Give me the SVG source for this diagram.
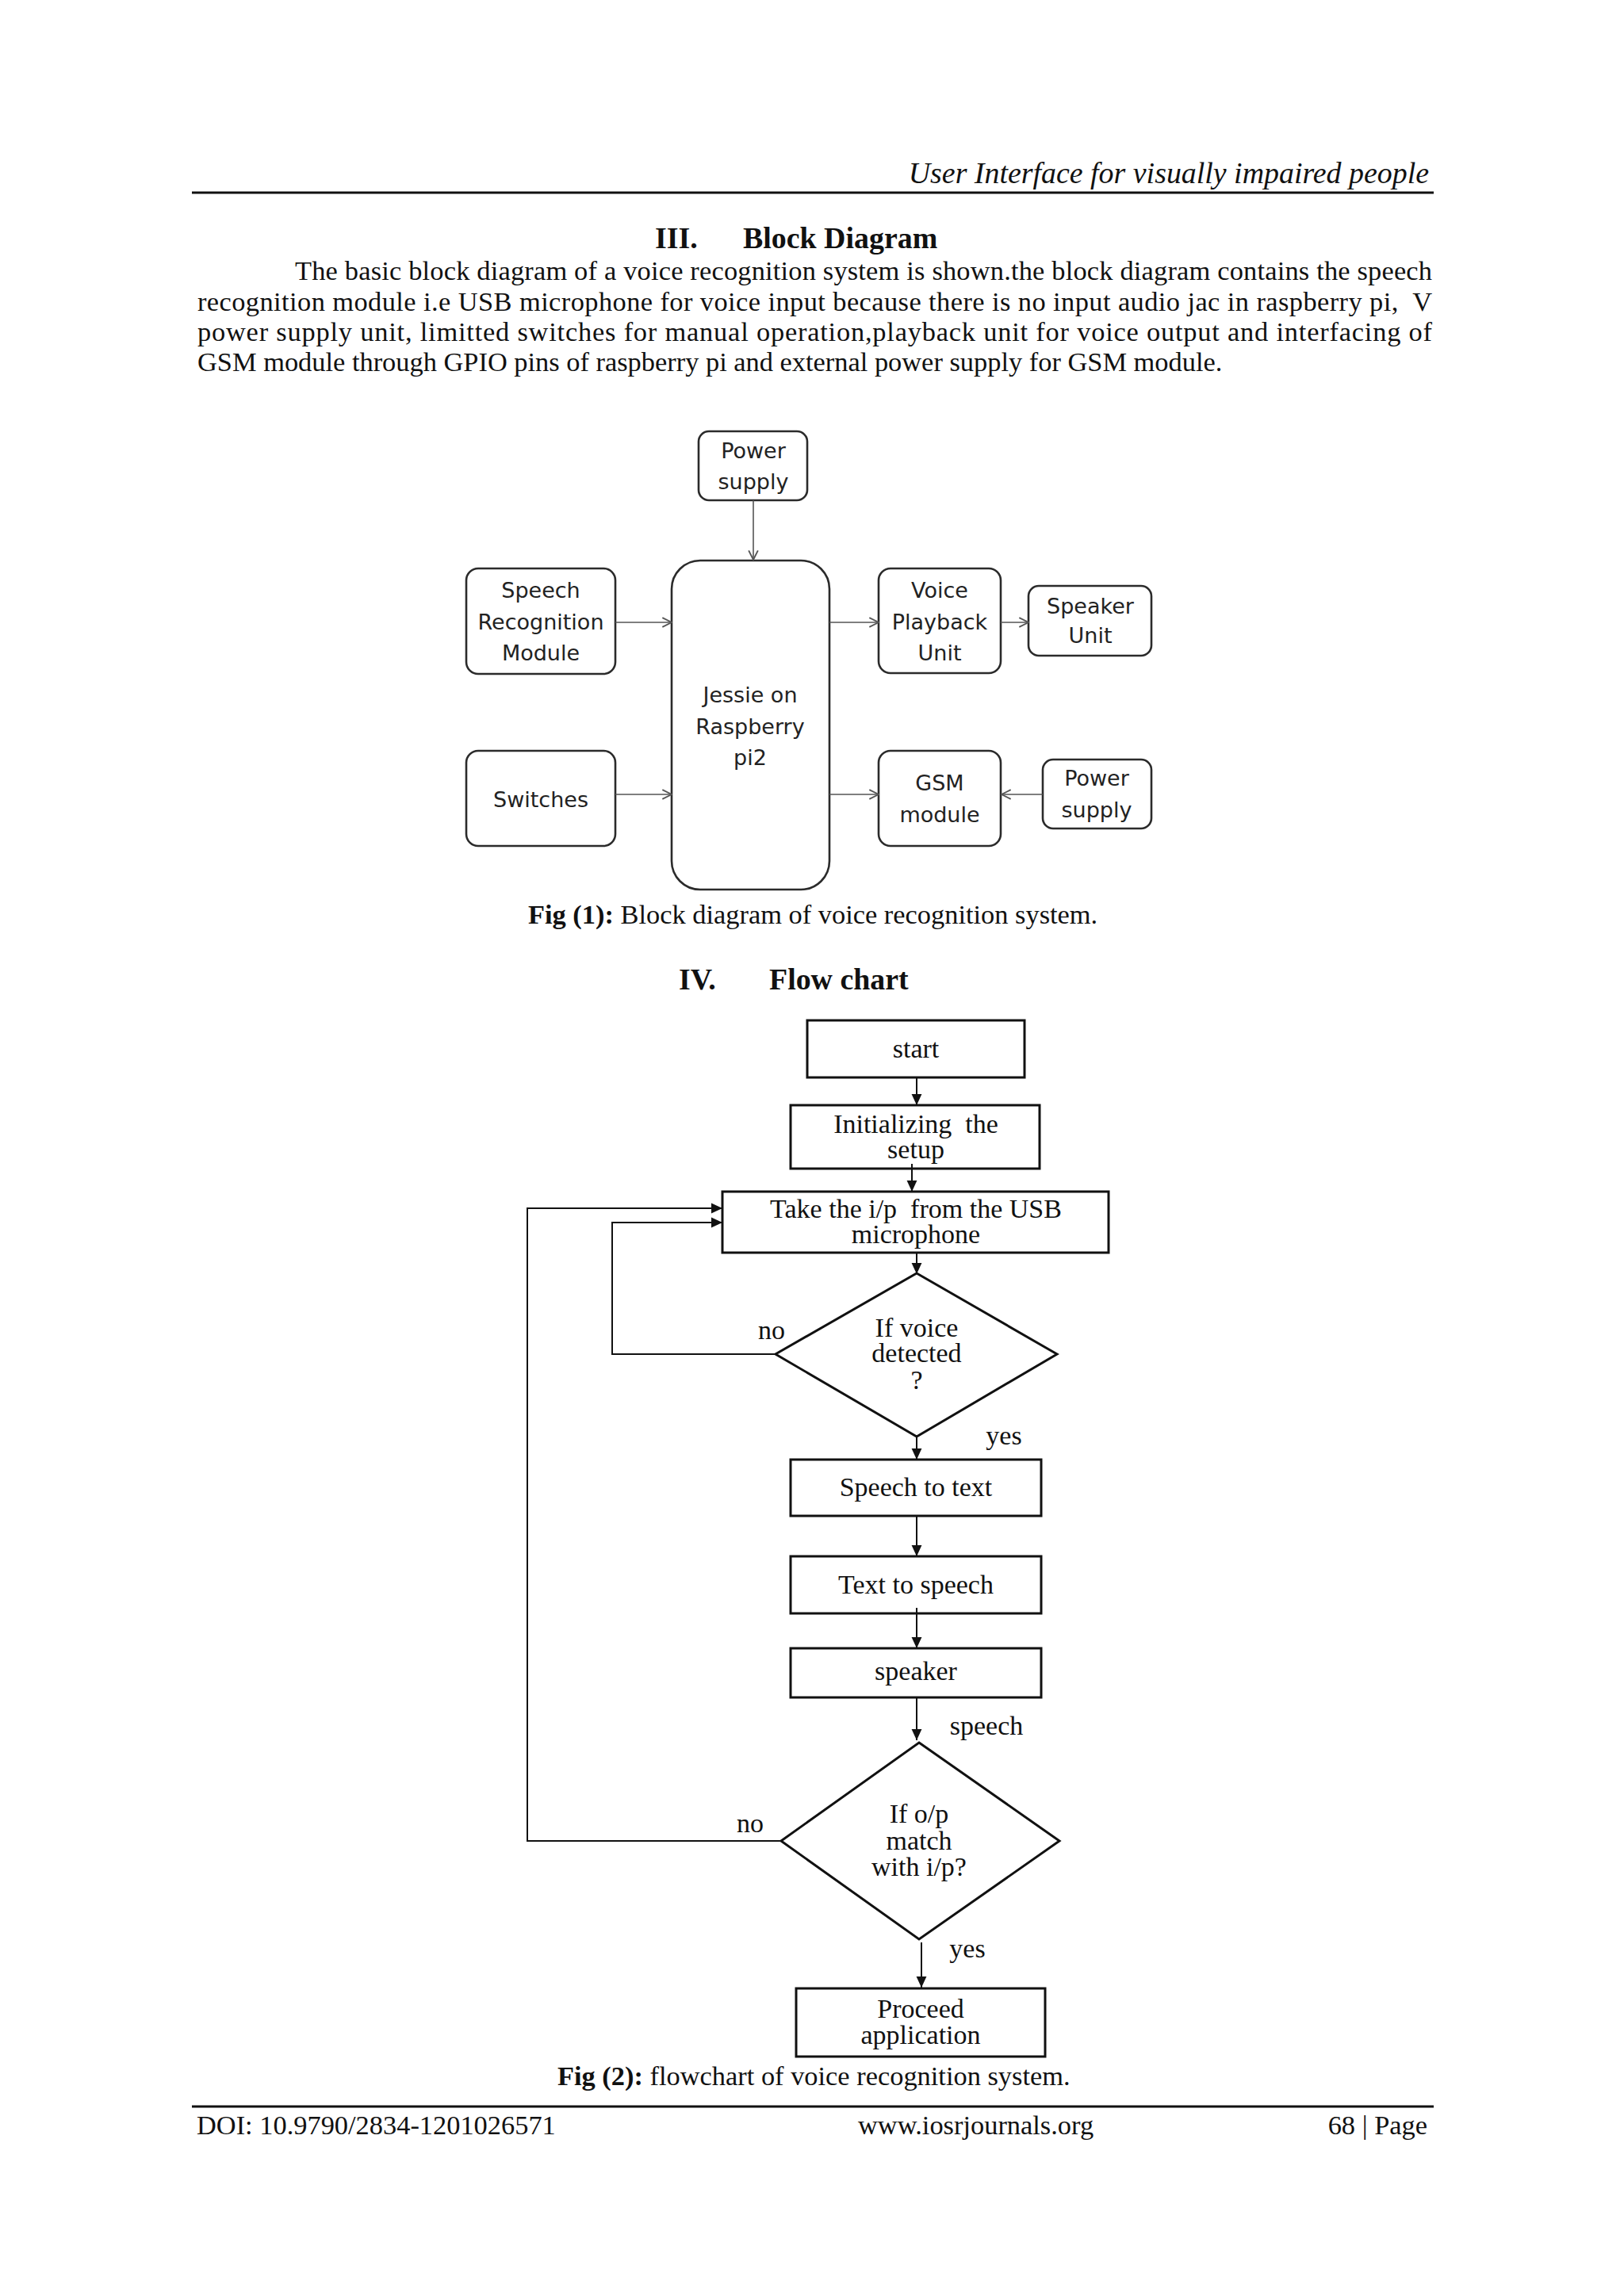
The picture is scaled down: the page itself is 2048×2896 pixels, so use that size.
<svg xmlns="http://www.w3.org/2000/svg" width="2048" height="2896" viewBox="0 0 2048 2896">
<style>
.serif{font-family:"Liberation Serif","Times New Roman",serif;fill:#111}
.body{font-size:34.4px}
.head{font-size:37.9px;font-weight:bold}
.bd{fill:#fff;stroke:#2b2b2b;stroke-width:2.6}
.bdt{font-family:"DejaVu Sans","Liberation Sans",sans-serif;font-size:27px;fill:#222;text-anchor:middle}
.bdl{stroke:#555;stroke-width:1.6;fill:none}
.fc{fill:#fff;stroke:#111;stroke-width:3}
.fct{font-family:"Liberation Serif","Times New Roman",serif;font-size:34px;fill:#111;text-anchor:middle}
.fcl{stroke:#111;stroke-width:2;fill:none}
</style>
<defs>
<marker id="open" markerUnits="userSpaceOnUse" markerWidth="14" markerHeight="14" viewBox="0 0 12 12" refX="11" refY="6" orient="auto">
<path d="M1,1 L11,6 L1,11" fill="none" stroke="#555" stroke-width="1.6"/>
</marker>
<marker id="tri" markerUnits="userSpaceOnUse" markerWidth="14" markerHeight="14" viewBox="0 0 12 12" refX="12" refY="6" orient="auto">
<path d="M0,0.5 L12,6 L0,11.5 z" fill="#111"/>
</marker>
</defs>
<rect width="2048" height="2896" fill="#fff"/>

<!-- page header -->
<g id="header">
<text class="serif" x="1802" y="231" font-size="37.9" font-style="italic" text-anchor="end">User Interface for visually impaired people</text>
<line x1="242" y1="243" x2="1808" y2="243" stroke="#111" stroke-width="3"/>
</g>

<g id="section3">
<text class="serif head" x="826" y="313">III.</text>
<text class="serif head" x="937" y="313">Block Diagram</text>
<text class="serif body" x="372" y="353" textLength="1434" lengthAdjust="spacing">The basic block diagram of a voice recognition system is shown.the block diagram contains the speech</text>
<text class="serif body" x="249" y="392" textLength="1557" lengthAdjust="spacing" xml:space="preserve">recognition module i.e USB microphone for voice input because there is no input audio jac in raspberry pi,  V</text>
<text class="serif body" x="249" y="430" textLength="1557" lengthAdjust="spacing">power supply unit, limitted switches for manual operation,playback unit for voice output and interfacing of</text>
<text class="serif body" x="249" y="468">GSM module through GPIO pins of raspberry pi and external power supply for GSM module.</text>
</g>

<!-- block diagram nodes -->
<g id="bd-power-top">
<rect class="bd" x="881" y="544" width="137" height="87" rx="13"/>
<text class="bdt" x="950" y="578">Power</text>
<text class="bdt" x="950" y="617">supply</text>
</g>
<g id="bd-jessie">
<rect class="bd" x="847" y="707" width="199" height="415" rx="36"/>
<text class="bdt" x="946" y="886">Jessie on</text>
<text class="bdt" x="946" y="926">Raspberry</text>
<text class="bdt" x="946" y="965">pi2</text>
</g>
<g id="bd-speech">
<rect class="bd" x="588" y="717" width="188" height="133" rx="15" stroke="#85857a"/>
<text class="bdt" x="682" y="754">Speech</text>
<text class="bdt" x="682" y="794">Recognition</text>
<text class="bdt" x="682" y="833">Module</text>
</g>
<g id="bd-switches">
<rect class="bd" x="588" y="947" width="188" height="120" rx="15"/>
<text class="bdt" x="682" y="1018">Switches</text>
</g>
<g id="bd-voice">
<rect class="bd" x="1108" y="717" width="154" height="132" rx="15"/>
<text class="bdt" x="1185" y="754">Voice</text>
<text class="bdt" x="1185" y="794">Playback</text>
<text class="bdt" x="1185" y="833">Unit</text>
</g>
<g id="bd-speaker">
<rect class="bd" x="1297" y="739" width="155" height="88" rx="13"/>
<text class="bdt" x="1375" y="774">Speaker</text>
<text class="bdt" x="1375" y="811">Unit</text>
</g>
<g id="bd-gsm">
<rect class="bd" x="1108" y="947" width="154" height="120" rx="15"/>
<text class="bdt" x="1185" y="997">GSM</text>
<text class="bdt" x="1185" y="1037">module</text>
</g>
<g id="bd-power-right">
<rect class="bd" x="1315" y="958" width="137" height="87" rx="13"/>
<text class="bdt" x="1383" y="991">Power</text>
<text class="bdt" x="1383" y="1031">supply</text>
</g>

<g id="bd-connectors">
<line class="bdl" x1="950" y1="631" x2="950" y2="706" marker-end="url(#open)"/>
<line class="bdl" x1="776" y1="785" x2="847" y2="785" marker-end="url(#open)"/>
<line class="bdl" x1="776" y1="1002" x2="847" y2="1002" marker-end="url(#open)"/>
<line class="bdl" x1="1046" y1="785" x2="1108" y2="785" marker-end="url(#open)"/>
<line class="bdl" x1="1262" y1="785" x2="1297" y2="785" marker-end="url(#open)"/>
<line class="bdl" x1="1046" y1="1002" x2="1108" y2="1002" marker-end="url(#open)"/>
<line class="bdl" x1="1315" y1="1002" x2="1263" y2="1002" marker-end="url(#open)"/>
</g>

<g id="caption1">
<text class="serif body" x="666" y="1165"><tspan font-weight="bold">Fig (1):</tspan> Block diagram of voice recognition system.</text>
</g>

<g id="section4">
<text class="serif head" x="856" y="1248">IV.</text>
<text class="serif head" x="970" y="1248">Flow chart</text>
</g>

<!-- flowchart nodes -->
<g id="fc-start">
<rect class="fc" x="1018" y="1287" width="274" height="72"/>
<text class="fct" x="1155" y="1334">start</text>
</g>
<g id="fc-init">
<rect class="fc" x="997" y="1394" width="314" height="80"/>
<text class="fct" x="1155" y="1429" xml:space="preserve">Initializing  the</text>
<text class="fct" x="1155" y="1461">setup</text>
</g>
<g id="fc-take">
<rect class="fc" x="911" y="1503" width="487" height="77"/>
<text class="fct" x="1155" y="1536" xml:space="preserve">Take the i/p  from the USB</text>
<text class="fct" x="1155" y="1568">microphone</text>
</g>
<g id="fc-d1">
<polygon class="fc" points="1156,1606 1333,1708 1156,1812 978,1708"/>
<text class="fct" x="1156" y="1686">If voice</text>
<text class="fct" x="1156" y="1718">detected</text>
<text class="fct" x="1156" y="1752">?</text>
</g>
<g id="fc-stt">
<rect class="fc" x="997" y="1841" width="316" height="71"/>
<text class="fct" x="1155" y="1887">Speech to text</text>
</g>
<g id="fc-tts">
<rect class="fc" x="997" y="1963" width="316" height="72"/>
<text class="fct" x="1155" y="2010">Text to speech</text>
</g>
<g id="fc-speaker">
<rect class="fc" x="997" y="2079" width="316" height="62"/>
<text class="fct" x="1155" y="2119">speaker</text>
</g>
<g id="fc-d2">
<polygon class="fc" points="1159,2198 1336,2322 1159,2446 985,2322"/>
<text class="fct" x="1159" y="2299">If o/p</text>
<text class="fct" x="1159" y="2333">match</text>
<text class="fct" x="1159" y="2366">with i/p?</text>
</g>
<g id="fc-proceed">
<rect class="fc" x="1004" y="2508" width="314" height="86"/>
<text class="fct" x="1161" y="2545">Proceed</text>
<text class="fct" x="1161" y="2578">application</text>
</g>

<g id="fc-connectors">
<line class="fcl" x1="1156" y1="1359" x2="1156" y2="1394" marker-end="url(#tri)"/>
<line class="fcl" x1="1150" y1="1468" x2="1150" y2="1503" marker-end="url(#tri)"/>
<line class="fcl" x1="1156" y1="1580" x2="1156" y2="1607" marker-end="url(#tri)"/>
<line class="fcl" x1="1156" y1="1812" x2="1156" y2="1841" marker-end="url(#tri)"/>
<line class="fcl" x1="1156" y1="1912" x2="1156" y2="1963" marker-end="url(#tri)"/>
<line class="fcl" x1="1156" y1="2028" x2="1156" y2="2079" marker-end="url(#tri)"/>
<line class="fcl" x1="1156" y1="2141" x2="1156" y2="2195" marker-end="url(#tri)"/>
<line class="fcl" x1="1162" y1="2450" x2="1162" y2="2507" marker-end="url(#tri)"/>
<polyline class="fcl" points="978,1708 772,1708 772,1542 911,1542" marker-end="url(#tri)"/>
<polyline class="fcl" points="985,2322 665,2322 665,1524 911,1524" marker-end="url(#tri)"/>
<text class="fct" x="973" y="1689">no</text>
<text class="fct" x="1266" y="1822">yes</text>
<text class="fct" x="1244" y="2188">speech</text>
<text class="fct" x="946" y="2311">no</text>
<text class="fct" x="1220" y="2469">yes</text>
</g>

<g id="caption2">
<text class="serif body" x="703" y="2630"><tspan font-weight="bold">Fig (2):</tspan> flowchart of voice recognition system.</text>
</g>

<g id="footer">
<line x1="242" y1="2657" x2="1808" y2="2657" stroke="#111" stroke-width="3"/>
<text class="serif body" x="248" y="2692">DOI: 10.9790/2834-1201026571</text>
<text class="serif body" x="1082" y="2692">www.iosrjournals.org</text>
<text class="serif body" x="1800" y="2692" text-anchor="end">68 | Page</text>
</g>
</svg>
